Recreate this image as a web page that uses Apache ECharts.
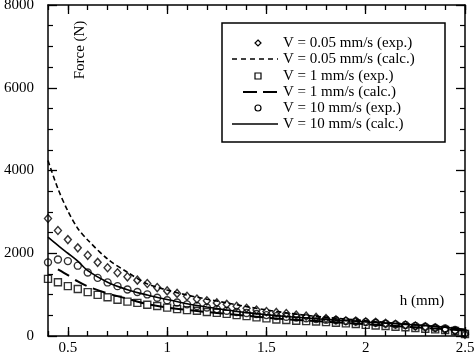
<!DOCTYPE html>
<html>
<head>
<meta charset="utf-8">
<script src="https://cdn.jsdelivr.net/npm/echarts@6/dist/echarts.min.js"></script>
<style>
html,body{margin:0;padding:0;background:#fff;}
#chart{width:474px;height:355px;}
</style>
</head>
<body>
<div id="chart"></div>
<script>
// ---- data ----
const hExp = [0.40,0.45,0.50,0.55,0.60,0.65,0.70,0.75,0.80,0.85,0.90,0.95,1.00,1.05,1.10,1.15,1.20,1.25,1.30,1.35,1.40,1.45,1.50,1.55,1.60,1.65,1.70,1.75,1.80,1.85,1.90,1.95,2.00,2.05,2.10,2.15,2.20,2.25,2.30,2.35,2.40,2.45,2.50];
const fExp005 = [2840,2550,2330,2130,1950,1780,1650,1530,1430,1350,1270,1170,1090,1030,960,895,850,800,765,720,670,630,590,570,545,505,480,450,420,390,370,360,345,330,305,285,265,240,225,200,160,120,40];
const fExp1 = [1380,1300,1205,1135,1060,995,935,875,830,800,755,725,685,650,625,610,580,560,535,505,480,450,425,400,385,370,360,350,335,320,305,290,270,255,240,225,210,195,175,160,145,120,50];
const fExp10 = [1780,1850,1810,1700,1535,1405,1295,1205,1125,1065,1005,925,865,810,765,725,690,650,610,580,555,530,505,480,465,445,430,410,395,380,360,350,335,320,300,280,265,245,225,200,180,145,70];

const hCalc = [0.40,0.45,0.50,0.55,0.60,0.70,0.80,0.90,1.00,1.10,1.20,1.30,1.40,1.50,1.60,1.70,1.80,1.90,2.00,2.10,2.20,2.30,2.40,2.50];
const fCalc005 = [4240,3560,3020,2600,2320,1860,1540,1260,1110,990,890,800,710,630,560,500,450,410,370,330,290,250,210,150];
const fCalc1 = [null,1610,1470,1320,1200,1030,900,770,690,630,580,535,490,445,405,375,345,315,285,255,225,195,165,125];
const fCalc10 = [2390,2190,2000,1810,1580,1300,1120,990,880,780,700,630,565,515,470,435,400,370,340,310,280,250,210,160];

const xMajorTicks = [0.5,1,1.5,2,2.5];
const legendLabels = ['V = 0.05 mm/s (exp.)','V = 0.05 mm/s (calc.)','V = 1 mm/s (exp.)','V = 1 mm/s (calc.)','V = 10 mm/s (exp.)','V = 10 mm/s (calc.)'];
const yAxisTitle = 'Force (N)';
const xAxisTitle = 'h (mm)';

// ---- chart ----
const FONT = "'Liberation Serif','Times New Roman',serif";
const zip = (xs, ys) => xs.map((x,i) => [x, ys[i]]);
const chart = echarts.init(document.getElementById('chart'), null, {renderer:'canvas'});

const baseLine = {show:true, lineStyle:{color:'#000', width:1.5}};
function xAx(pos, major, showLabel){
  const a = {
    type:'value', position:pos, min:0.4, max:2.5, interval:0.1,
    axisLine: major ? {show:false} : baseLine,
    splitLine:{show:false},
    axisTick:{show:true, inside:true, length: major?9:5, lineStyle:{color:'#000', width:1.3}},
    axisLabel:{show:false}
  };
  if (major){ a.axisTick.customValues = xMajorTicks; }
  if (showLabel){
    a.axisLabel = {show:true, color:'#000', fontFamily:FONT, fontSize:15, margin:5,
      customValues: xMajorTicks,
      formatter: v => String(Math.round(v*10)/10)};
  }
  return a;
}
function yAx(pos, showLabel){
  return {
    type:'value', position:pos, min:0, max:8000, interval:2000,
    axisLine: baseLine,
    splitLine:{show:false},
    axisTick:{show:true, inside:true, length:9, lineStyle:{color:'#000', width:1.3}},
    minorTick:{show:true, splitNumber:4, length:5, lineStyle:{color:'#000', width:1.2}},
    axisLabel:{show:showLabel, color:'#000', fontFamily:FONT, fontSize:15, margin:14, formatter: v => String(v)}
  };
}

const markerStyle = {color:'rgba(0,0,0,0)', borderColor:'#000', borderWidth:1.4};
const lx = 232, lx2 = 278, tx = 283, rows = [43,59,76,92,108,124];

const option = {
  animation:false,
  backgroundColor:'#fff',
  grid:{left:48, right:9, top:5, bottom:19, containLabel:false, outerBoundsMode:'none'},
  xAxis:[xAx('bottom', false, true), xAx('bottom', true, false), xAx('top', false, false), xAx('top', true, false)],
  yAxis:[yAx('left', true), yAx('right', false)],
  series:[
    {name:legendLabels[1], type:'line', data:zip(hCalc,fCalc005), showSymbol:false, smooth:0.3, lineStyle:{color:'#000', width:1.6, type:[5,3]}, z:2},
    {name:legendLabels[3], type:'line', data:zip(hCalc,fCalc1), showSymbol:false, smooth:0.3, lineStyle:{color:'#000', width:2, type:[13,7]}, z:2},
    {name:legendLabels[5], type:'line', data:zip(hCalc,fCalc10), showSymbol:false, smooth:0.3, lineStyle:{color:'#000', width:1.6}, z:2},
    {name:legendLabels[0], type:'scatter', data:zip(hExp,fExp005), symbol:'diamond', symbolSize:[7,8], itemStyle:markerStyle, z:3},
    {name:legendLabels[2], type:'scatter', data:zip(hExp,fExp1), symbol:'rect', symbolSize:7, itemStyle:markerStyle, z:3},
    {name:legendLabels[4], type:'scatter', data:zip(hExp,fExp10), symbol:'circle', symbolSize:7, itemStyle:markerStyle, z:3}
  ],
  graphic:[
    {type:'text', x:80, y:50, rotation:Math.PI/2, style:{text:yAxisTitle, font:'15px '+FONT, fill:'#000', align:'center', verticalAlign:'middle'}, z:10},
    {type:'text', x:422, y:301, style:{text:xAxisTitle, font:'15px '+FONT, fill:'#000', align:'center', verticalAlign:'middle'}, z:10},
    {type:'rect', shape:{x:222, y:23, width:223, height:119}, style:{fill:'#fff', stroke:'#000', lineWidth:1.5}, z:20},
    {type:'polygon', shape:{points:[[258,40],[261,43],[258,46],[255,43]]}, style:{fill:'none', stroke:'#000', lineWidth:1.2}, z:21},
    {type:'line', shape:{x1:lx, y1:rows[1], x2:lx2, y2:rows[1]}, style:{stroke:'#000', lineWidth:1.5, lineDash:[5,4]}, z:21},
    {type:'rect', shape:{x:255, y:rows[2]-3, width:6, height:6}, style:{fill:'none', stroke:'#000', lineWidth:1.2}, z:21},
    {type:'line', shape:{x1:243, y1:rows[3], x2:lx2, y2:rows[3]}, style:{stroke:'#000', lineWidth:2, lineDash:[14,6]}, z:21},
    {type:'circle', shape:{cx:258, cy:rows[4], r:3}, style:{fill:'none', stroke:'#000', lineWidth:1.2}, z:21},
    {type:'line', shape:{x1:lx, y1:rows[5], x2:lx2, y2:rows[5]}, style:{stroke:'#000', lineWidth:1.5}, z:21}
  ].concat(legendLabels.map((t,i) => ({type:'text', x:tx, y:rows[i], style:{text:t, font:'15px '+FONT, fill:'#000', align:'left', verticalAlign:'middle'}, z:22})))
};
chart.setOption(option);
</script>
</body>
</html>
